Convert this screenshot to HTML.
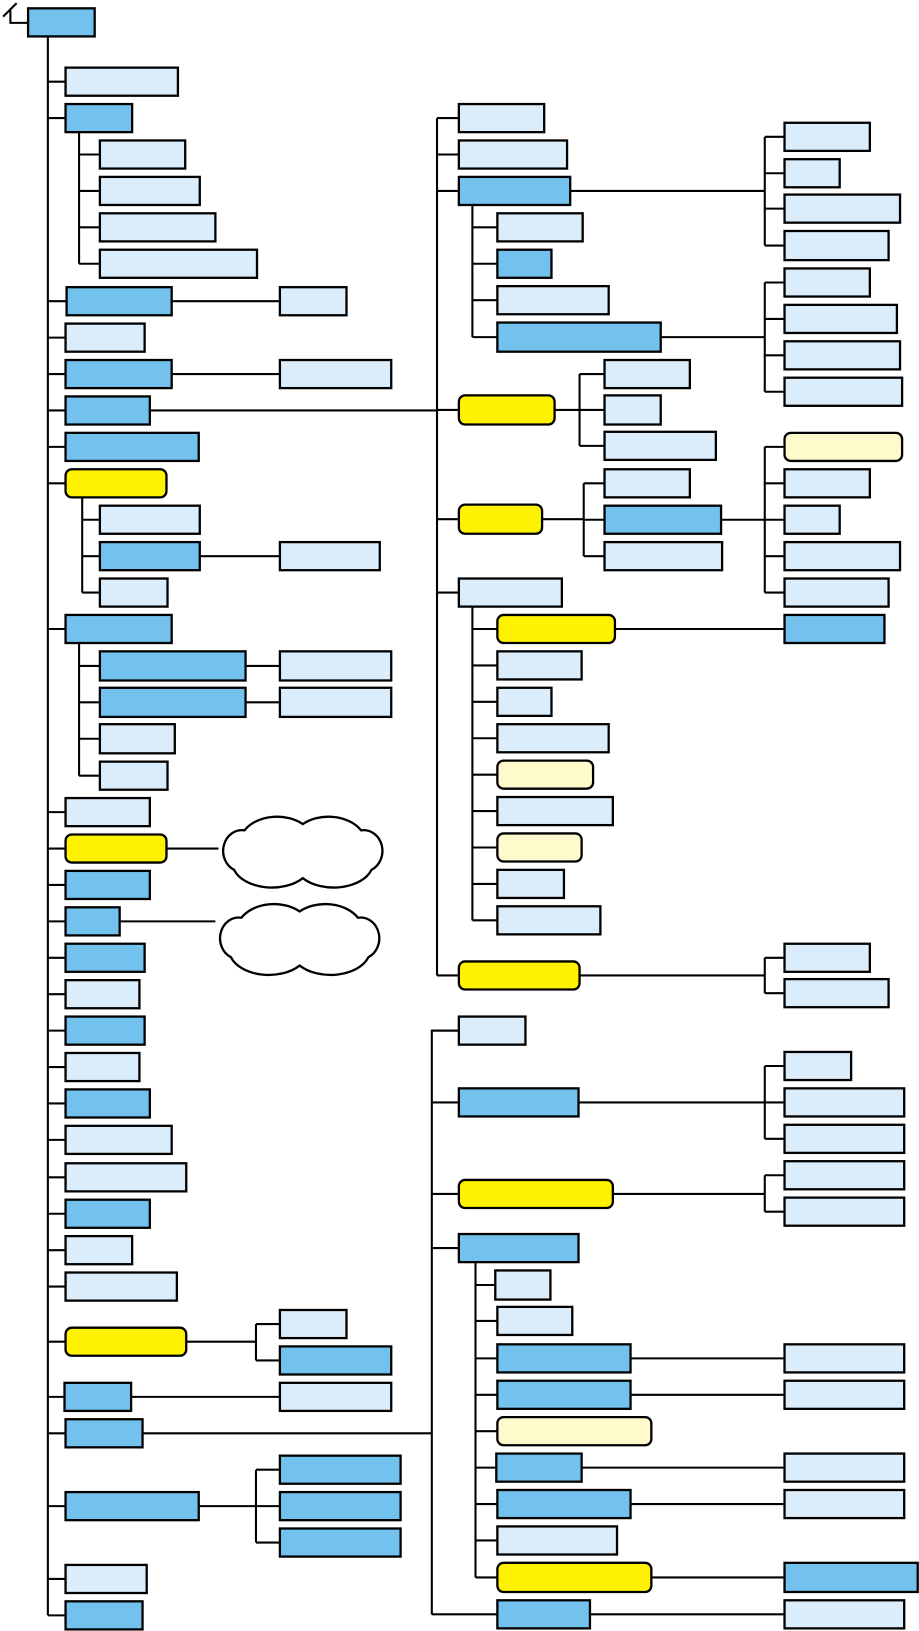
<!DOCTYPE html>
<html><head><meta charset="utf-8"><style>html,body{margin:0;padding:0;background:#fff}svg{display:block}</style></head>
<body>
<svg id="s" width="919" height="1631" viewBox="0 0 919 1631" xmlns="http://www.w3.org/2000/svg">
<g transform="scale(1.0405)">
<g id="L" stroke="#000" stroke-width="2" fill="none"></g>
<g id="B" stroke="#000" stroke-width="2.2"></g>
</g>
</svg>
<script>
var NS="http://www.w3.org/2000/svg",Lg=document.getElementById("L"),Bg=document.getElementById("B");
var C={d:"#73c2ee",l:"#dbecfa",y:"#fff200",p:"#fffacc"};
function B(x1,y1,x2,y2,t){var r=document.createElementNS(NS,"rect");r.setAttribute("x",x1);r.setAttribute("y",y1);r.setAttribute("width",x2-x1);r.setAttribute("height",y2-y1);r.setAttribute("fill",C[t]);if(t=="y"||t=="p"){r.setAttribute("rx",6);}Bg.appendChild(r);return {x1:x1,y1:y1,x2:x2,y2:y2,cy:(y1+y2)/2};}
function P(pts){var p=document.createElementNS(NS,"polyline");p.setAttribute("points",pts.map(function(a){return a.join(",")}).join(" "));Lg.appendChild(p);}
function V(x,y0,kids){var last=kids[kids.length-1];P([[x,y0],[x,last.cy]]);kids.forEach(function(k){P([[x,k.cy],[k.x1,k.cy]]);});}
function S(par,x,kids){P([[par.x2,par.cy],[x,par.cy]]);var ys=kids.map(function(k){return k.cy});P([[x,Math.min.apply(0,ys)],[x,Math.max.apply(0,ys)]]);kids.forEach(function(k){P([[x,k.cy],[k.x1,k.cy]]);});}
function H(a,b){P([[a.x2,a.cy],[b.x1,a.cy]]);}
P([[27,22],[10,22],[10,10]]);P([[3,16],[16,3]]);
var root=B(27,8,91,35,"d");
var a=[];
a.push(B(63,65,171,92,"l"));
var b2=B(63,100,127,127,"d");a.push(b2);
V(76,127,[B(96,135,178,162,"l"),B(96,170,192,197,"l"),B(96,205,207,232,"l"),B(96,240,247,267,"l")]);
var b3=B(64,276,165,303,"d");a.push(b3);H(b3,B(269,276,333,303,"l"));
a.push(B(63,311,139,338,"l"));
var b5=B(63,346,165,373,"d");a.push(b5);H(b5,B(269,346,376,373,"l"));
var b6=B(63,381,144,408,"d");a.push(b6);P([[144,394.5],[420,394.5]]);
a.push(B(63,416,191,443,"d"));
var b8=B(63,451,160,478,"y");a.push(b8);
var k2=B(96,521,192,548,"d");
V(79,478,[B(96,486,192,513,"l"),k2,B(96,556,161,583,"l")]);H(k2,B(269,521,365,548,"l"));
var b9=B(63,591,165,618,"d");a.push(b9);
var m1=B(96,626,236,654,"d"),m2=B(96,661,236,689,"d");
V(76,618,[m1,m2,B(96,696,168,724,"l"),B(96,732,161,759,"l")]);
H(m1,B(269,626,376,654,"l"));H(m2,B(269,661,376,689,"l"));
a.push(B(63,767,144,794,"l"));
var b11=B(63,802,160,829,"y");a.push(b11);P([[160,815.5],[210,815.5]]);
a.push(B(63,837,144,864,"d"));
var b13=B(63,872,115,899,"d");a.push(b13);P([[115,885.5],[207,885.5]]);
a.push(B(63,907,139,934,"d"));
a.push(B(63,942,134,969,"l"));
a.push(B(63,977,139,1004,"d"));
a.push(B(63,1012,134,1039,"l"));
a.push(B(63,1047,144,1074,"d"));
a.push(B(63,1082,165,1109,"l"));
a.push(B(63,1118,179,1145,"l"));
a.push(B(63,1153,144,1180,"d"));
a.push(B(63,1188,127,1215,"l"));
a.push(B(63,1223,170,1250,"l"));
var b24=B(63,1276,179,1303,"y");a.push(b24);S(b24,246,[B(269,1259,333,1286,"l"),B(269,1294,376,1321,"d")]);
var b25=B(62,1329,126,1356,"d");a.push(b25);H(b25,B(269,1329,376,1356,"l"));
var b26=B(63,1364,137,1391,"d");a.push(b26);P([[137,1377.5],[415,1377.5]]);
var b27=B(63,1434,191,1461,"d");a.push(b27);S(b27,246,[B(269,1399,385,1426,"d"),B(269,1434,385,1461,"d"),B(269,1469,385,1496,"d")]);
a.push(B(63,1504,141,1531,"l"));
a.push(B(63,1539,137,1566,"d"));
V(46,35,a);
var r=[];
r.push(B(441,100,523,127,"l"));
r.push(B(441,135,545,162,"l"));
var r3=B(441,170,548,197,"d");r.push(r3);
S(r3,735,[B(754,118,836,145,"l"),B(754,153,807,180,"l"),B(754,187,865,214,"l"),B(754,222,854,250,"l")]);
var q4=B(478,310,635,338,"d");
V(454,197,[B(478,205,560,232,"l"),B(478,240,530,267,"d"),B(478,275,585,302,"l"),q4]);
S(q4,735,[B(754,258,836,285,"l"),B(754,293,862,320,"l"),B(754,328,865,355,"l"),B(754,363,867,390,"l")]);
var r4=B(441,380,533,408,"y");r.push(r4);
S(r4,557,[B(581,346,663,373,"l"),B(581,380,635,408,"l"),B(581,415,688,442,"l")]);
var r5=B(441,485,521,513,"y");r.push(r5);
var g2=B(581,486,693,513,"d");
S(r5,561,[B(581,451,663,478,"l"),g2,B(581,521,694,548,"l")]);
S(g2,735,[B(754,416,867,443,"p"),B(754,451,836,478,"l"),B(754,486,807,513,"l"),B(754,521,865,548,"l"),B(754,556,854,583,"l")]);
var r6=B(441,556,540,583,"l");r.push(r6);
var y1=B(478,591,591,618,"y");
V(454,583,[y1,B(478,626,559,653,"l"),B(478,661,530,688,"l"),B(478,696,585,723,"l"),B(478,731,570,758,"p"),B(478,766,589,793,"l"),B(478,801,559,828,"p"),B(478,836,542,863,"l"),B(478,871,577,898,"l")]);
H(y1,B(754,591,850,618,"d"));
var r7=B(441,924,557,951,"y");r.push(r7);
S(r7,735,[B(754,907,836,934,"l"),B(754,941,854,968,"l")]);
P([[420,r[0].cy],[420,r7.cy]]);r.forEach(function(k){P([[420,k.cy],[k.x1,k.cy]]);});
var w=[];
w.push(B(441,977,505,1004,"l"));
var w2=B(441,1046,556,1073,"d");w.push(w2);
S(w2,735,[B(754,1011,818,1038,"l"),B(754,1046,869,1073,"l"),B(754,1081,869,1108,"l")]);
var w3=B(441,1134,589,1161,"y");w.push(w3);
S(w3,735,[B(754,1116,869,1143,"l"),B(754,1151,869,1178,"l")]);
var w4=B(441,1186,556,1213,"d");w.push(w4);
var s3=B(478,1292,606,1319,"d"),s4=B(478,1327,606,1354,"d"),s6=B(477,1397,559,1424,"d"),s7=B(478,1432,606,1459,"d"),s9=B(478,1502,626,1530,"y");
V(457,1213,[B(476,1221,529,1249,"l"),B(478,1256,550,1283,"l"),s3,s4,B(478,1362,626,1389,"p"),s6,s7,B(478,1467,593,1494,"l"),s9]);
H(s3,B(754,1292,869,1319,"l"));H(s4,B(754,1327,869,1354,"l"));H(s6,B(754,1397,869,1424,"l"));H(s7,B(754,1432,869,1459,"l"));H(s9,B(754,1502,882,1530,"d"));
var w5=B(478,1538,567,1565,"d");w.push(w5);H(w5,B(754,1538,869,1565,"l"));
P([[441,w[0].cy],[415,w[0].cy],[415,w5.cy]]);w.forEach(function(k){P([[415,k.cy],[k.x1,k.cy]]);});
function cloud(x,y,w,h){var p=document.createElementNS(NS,"path");var sx=w/167,sy=h/77;
function q(a,b){return (x+a*sx).toFixed(1)+","+(y+b*sy).toFixed(1);}
p.setAttribute("d","M"+q(18,58)+" A18,20 0 0 1 "+q(28,20)+" A36,26 0 0 1 "+q(84,14)+" A36,26 0 0 1 "+q(140,20)+" A18,20 0 0 1 "+q(150,58)+" A38,24 0 0 1 "+q(84,66)+" A38,24 0 0 1 "+q(18,58)+" Z");
p.setAttribute("fill","#fff");Bg.appendChild(p);}
cloud(207,778,167,77);cloud(204,862,167,77);
</script>
</body></html>
